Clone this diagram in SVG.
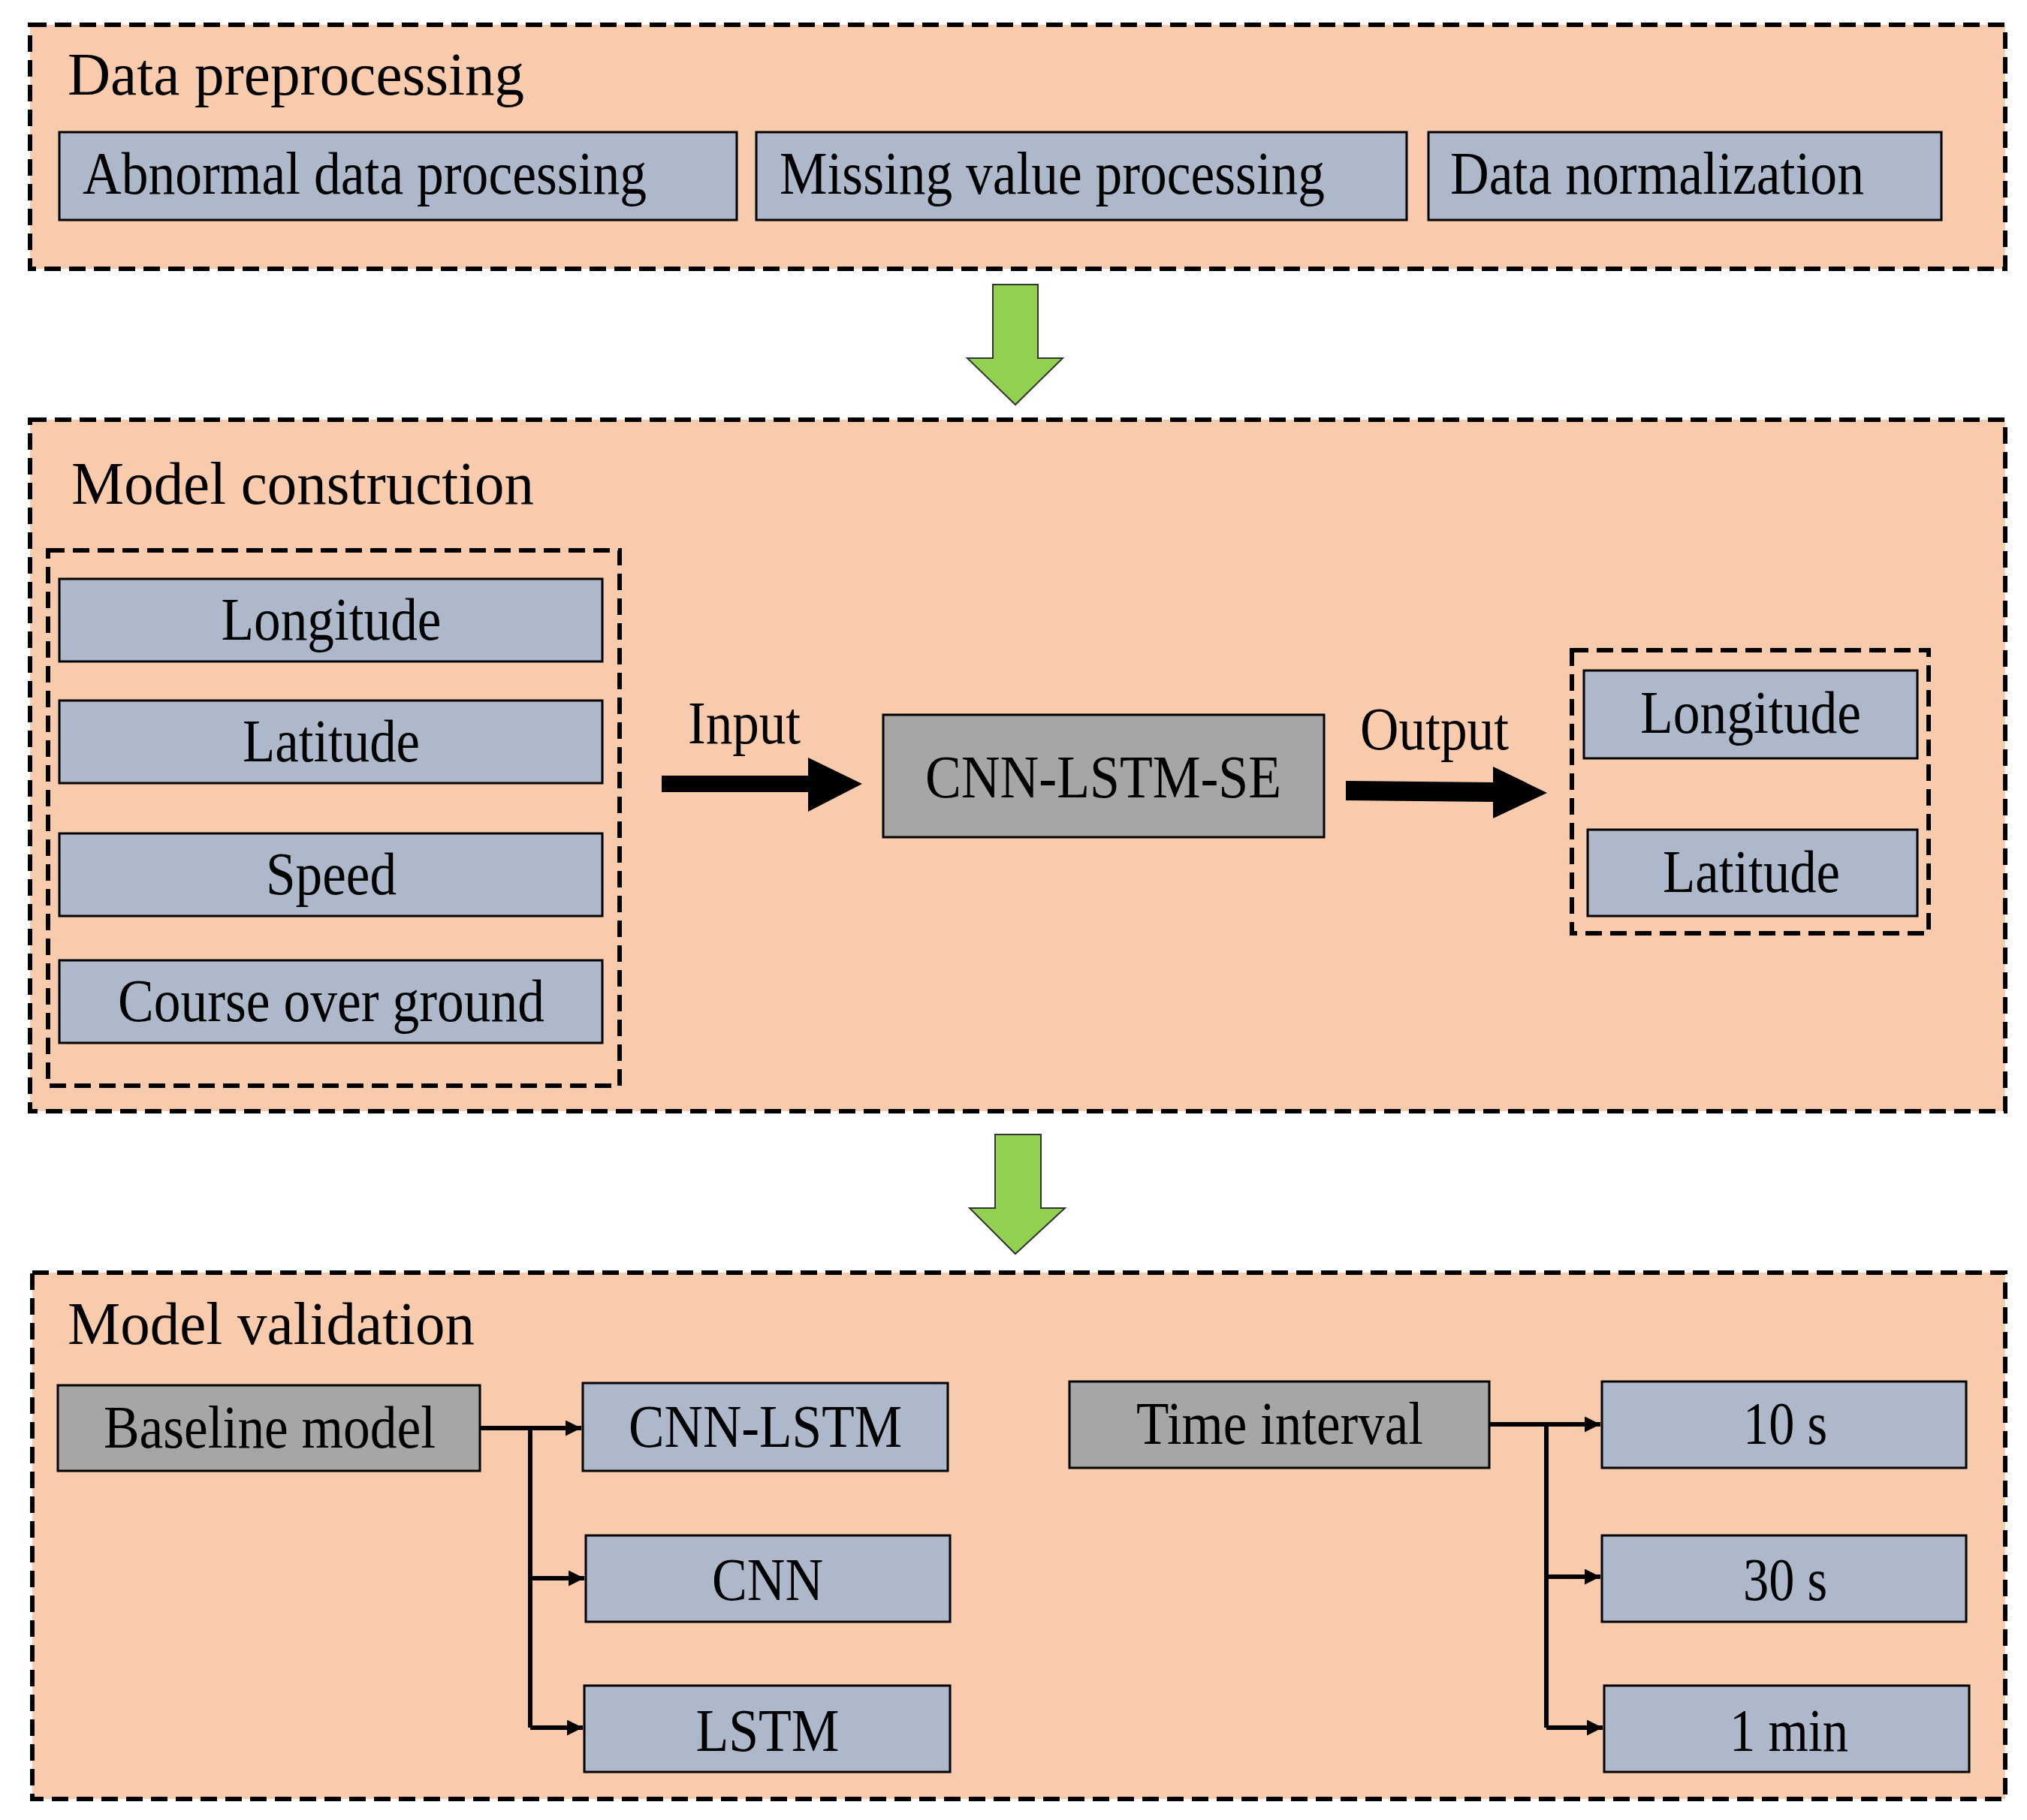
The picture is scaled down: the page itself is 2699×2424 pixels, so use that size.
<svg xmlns="http://www.w3.org/2000/svg" width="2699" height="2424" viewBox="0 0 2699 2424">
<style>
text{font-family:"Liberation Serif","Times New Roman",serif;font-size:80px;fill:#000}
.sec{fill:#F8CBAD;stroke:#000;stroke-width:6;stroke-dasharray:22 11}
.in{fill:none;stroke:#000;stroke-width:6;stroke-dasharray:22 11}
.b{fill:#ADB9CA;stroke:#000;stroke-width:3}
.g{fill:#A6A6A6;stroke:#000;stroke-width:3}
.gr{fill:#92D050;stroke:#333;stroke-width:2}
.c{text-anchor:middle}
.ln{fill:none;stroke:#000;stroke-width:6}
</style>
<defs>
<marker id="ah" viewBox="0 0 10 10" refX="10" refY="5" markerWidth="3.5" markerHeight="3.5" orient="auto" markerUnits="strokeWidth"><path d="M0,0L10,5L0,10z" fill="#000"/></marker>
</defs>
<g id="sec1">
<rect class="sec" x="40" y="33" width="2630" height="325"/>
<text x="90" y="126" textLength="608" lengthAdjust="spacingAndGlyphs">Data preprocessing</text>
</g>
<g id="n-abnormal"><rect class="b" x="79" y="176" width="902" height="117"/><text x="110" y="258" textLength="751" lengthAdjust="spacingAndGlyphs">Abnormal data processing</text></g>
<g id="n-missing"><rect class="b" x="1007" y="176" width="866" height="117"/><text x="1038" y="258" textLength="726" lengthAdjust="spacingAndGlyphs">Missing value processing</text></g>
<g id="n-norm"><rect class="b" x="1902" y="176" width="683" height="117"/><text x="1931" y="258" textLength="551" lengthAdjust="spacingAndGlyphs">Data normalization</text></g>

<g id="sec2">
<rect class="sec" x="40" y="559" width="2630" height="921"/>
<text x="95" y="671" textLength="616" lengthAdjust="spacingAndGlyphs">Model construction</text>
<rect class="in" x="64" y="733" width="761" height="713"/>
<rect class="in" x="2093" y="866" width="475" height="377"/>
</g>
<g id="n-lon"><rect class="b" x="79" y="771" width="723" height="110"/><text class="c" x="441" y="852" textLength="293" lengthAdjust="spacingAndGlyphs">Longitude</text></g>
<g id="n-lat"><rect class="b" x="79" y="933" width="723" height="110"/><text class="c" x="441" y="1014" textLength="236" lengthAdjust="spacingAndGlyphs">Latitude</text></g>
<g id="n-speed"><rect class="b" x="79" y="1110" width="723" height="110"/><text class="c" x="441" y="1191" textLength="174" lengthAdjust="spacingAndGlyphs">Speed</text></g>
<g id="n-course"><rect class="b" x="79" y="1279" width="723" height="110"/><text class="c" x="441" y="1360" textLength="568" lengthAdjust="spacingAndGlyphs">Course over ground</text></g>
<g id="n-model"><rect class="g" x="1176" y="952" width="587" height="163"/><text x="1232" y="1062" textLength="474" lengthAdjust="spacingAndGlyphs">CNN-LSTM-SE</text></g>
<g id="n-olon"><rect class="b" x="2109" y="893" width="444" height="117"/><text class="c" x="2331" y="976" textLength="294" lengthAdjust="spacingAndGlyphs">Longitude</text></g>
<g id="n-olat"><rect class="b" x="2114" y="1105" width="439" height="115"/><text class="c" x="2332" y="1188" textLength="236" lengthAdjust="spacingAndGlyphs">Latitude</text></g>

<g id="sec3">
<rect class="sec" x="43" y="1695" width="2627" height="701"/>
<text x="90" y="1790" textLength="542" lengthAdjust="spacingAndGlyphs">Model validation</text>
</g>
<g id="n-base"><rect class="g" x="77" y="1845" width="562" height="114"/><text x="138" y="1928" textLength="442" lengthAdjust="spacingAndGlyphs">Baseline model</text></g>
<g id="n-cnnlstm"><rect class="b" x="776" y="1842" width="486" height="117"/><text x="837" y="1927" textLength="364" lengthAdjust="spacingAndGlyphs">CNN-LSTM</text></g>
<g id="n-cnn"><rect class="b" x="780" y="2045" width="485" height="115"/><text class="c" x="1022" y="2131" textLength="148" lengthAdjust="spacingAndGlyphs">CNN</text></g>
<g id="n-lstm"><rect class="b" x="778" y="2245" width="487" height="115"/><text class="c" x="1022" y="2332" textLength="191" lengthAdjust="spacingAndGlyphs">LSTM</text></g>
<g id="n-time"><rect class="g" x="1424" y="1840" width="559" height="115"/><text x="1513" y="1923" textLength="382" lengthAdjust="spacingAndGlyphs">Time interval</text></g>
<g id="n-10s"><rect class="b" x="2133" y="1840" width="485" height="115"/><text class="c" x="2377" y="1923" textLength="112" lengthAdjust="spacingAndGlyphs">10 s</text></g>
<g id="n-30s"><rect class="b" x="2133" y="2045" width="485" height="115"/><text class="c" x="2377" y="2131" textLength="112" lengthAdjust="spacingAndGlyphs">30 s</text></g>
<g id="n-1min"><rect class="b" x="2136" y="2245" width="486" height="115"/><text class="c" x="2382" y="2332" textLength="158" lengthAdjust="spacingAndGlyphs">1 min</text></g>

<g id="connectors">
<polygon class="gr" points="1322,379 1382,379 1382,477 1415,477 1352,539 1288,477 1322,477"/>
<polygon class="gr" points="1325,1511 1386,1511 1386,1609 1418,1609 1352,1670 1291,1609 1325,1609"/>
<text x="916" y="990" textLength="150" lengthAdjust="spacingAndGlyphs">Input</text>
<polygon points="881,1033 1076,1033 1076,1009 1148,1044 1076,1081 1076,1055 881,1055" fill="#000"/>
<text x="1811" y="998" textLength="198" lengthAdjust="spacingAndGlyphs">Output</text>
<polygon points="1792,1040 1988,1042 1988,1021 2060,1056 1988,1090 1988,1068 1792,1066" fill="#000"/>
<path class="ln" d="M639,1902H706"/>
<path class="ln" d="M706,1902V2301"/>
<path class="ln" d="M706,1902H774" marker-end="url(#ah)"/>
<path class="ln" d="M706,2102H778" marker-end="url(#ah)"/>
<path class="ln" d="M706,2301H776" marker-end="url(#ah)"/>
<path class="ln" d="M1983,1897H2059"/>
<path class="ln" d="M2059,1897V2301"/>
<path class="ln" d="M2059,1897H2131" marker-end="url(#ah)"/>
<path class="ln" d="M2059,2100H2131" marker-end="url(#ah)"/>
<path class="ln" d="M2059,2301H2134" marker-end="url(#ah)"/>
</g>
</svg>
